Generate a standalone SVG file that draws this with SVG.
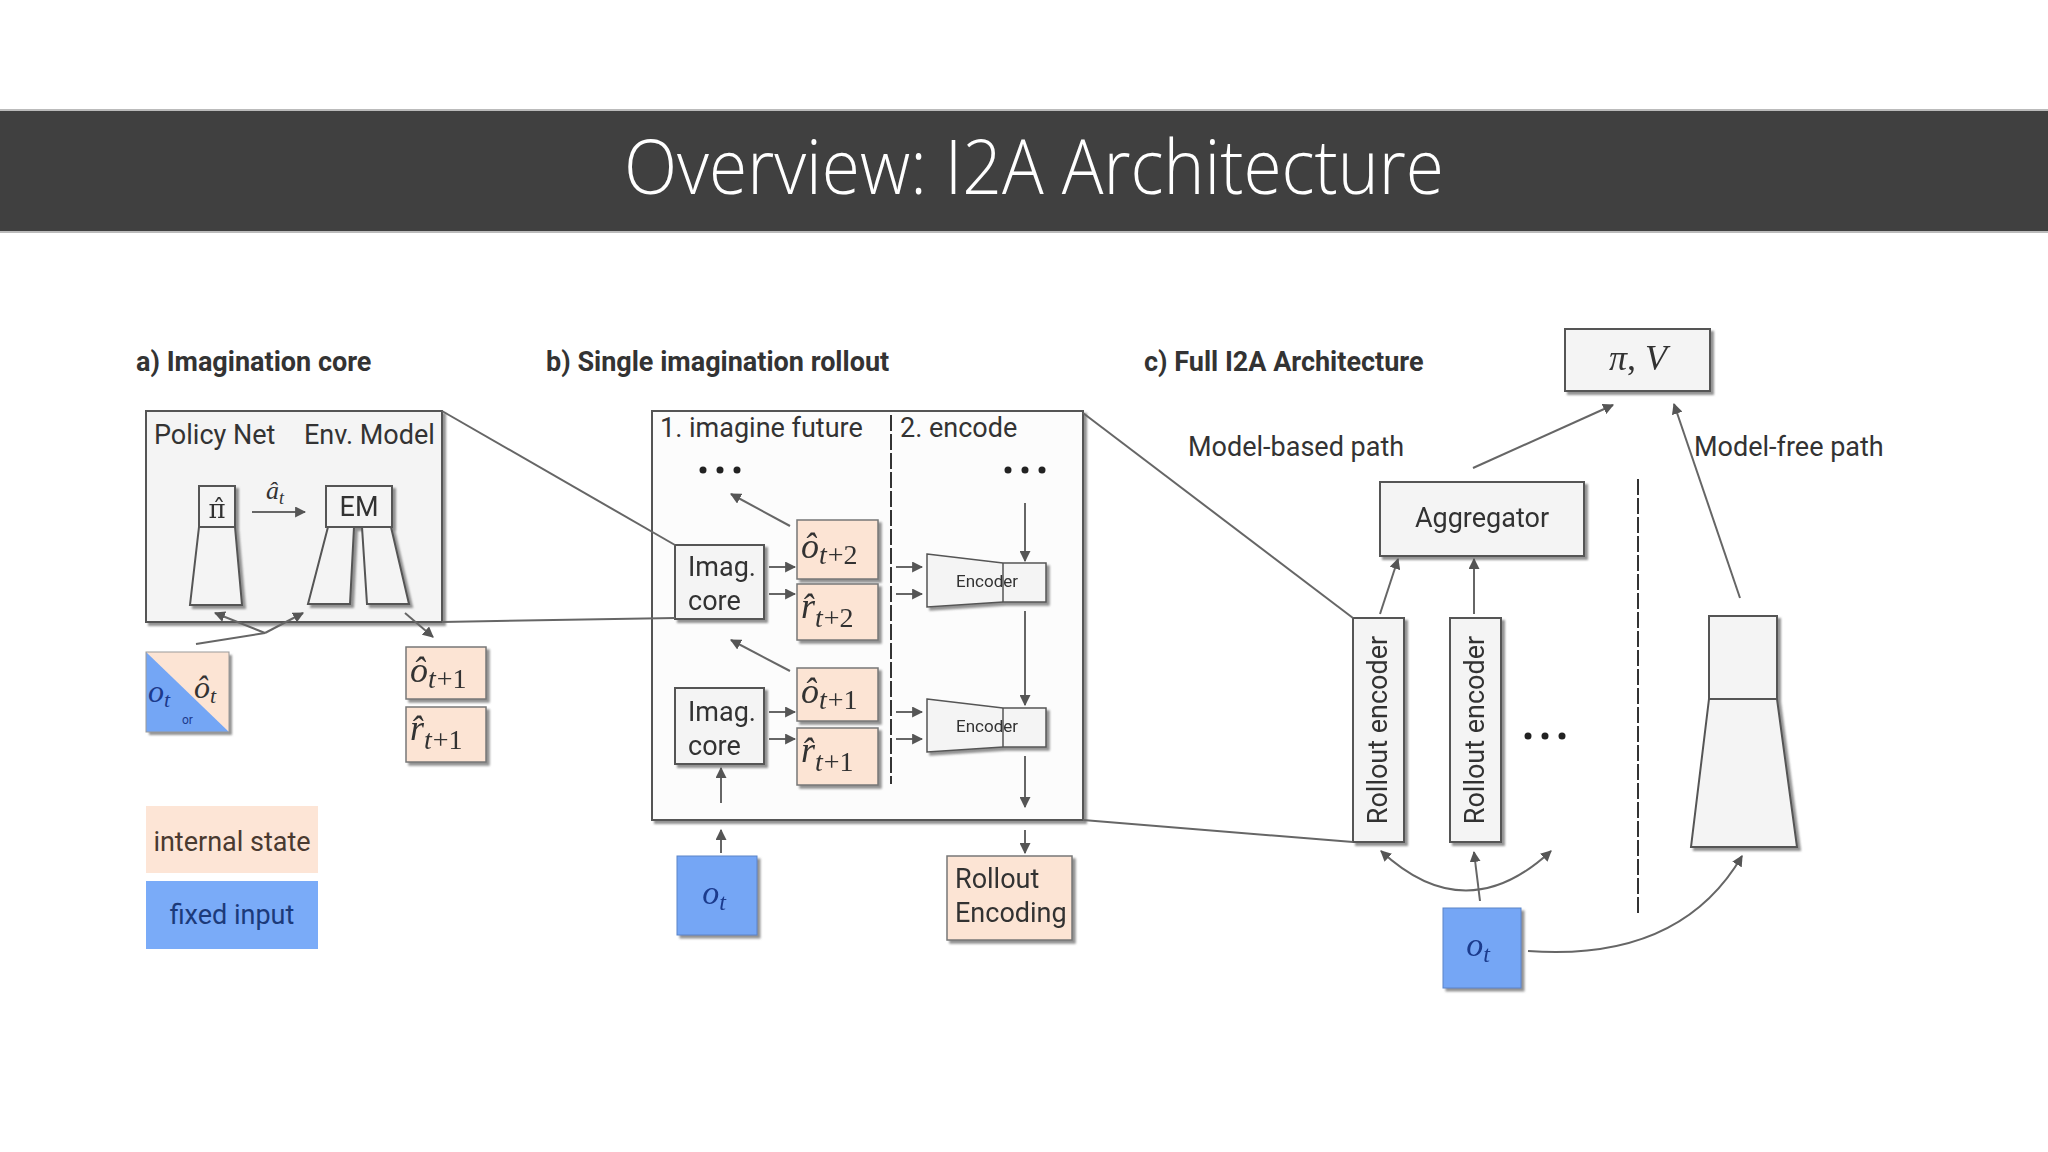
<svg xmlns="http://www.w3.org/2000/svg" width="2048" height="1152" viewBox="0 0 2048 1152">
<defs>
  <marker id="ah" viewBox="0 0 10 10" refX="9" refY="5" markerWidth="11" markerHeight="11" markerUnits="userSpaceOnUse" orient="auto-start-reverse">
    <path d="M0,0 L10,5 L0,10 z" fill="#555"/>
  </marker>
  <filter id="sh" x="-10%" y="-10%" width="130%" height="130%">
    <feDropShadow dx="3" dy="3" stdDeviation="1" flood-color="#777" flood-opacity="0.8"/>
  </filter>
</defs>
<style>
  .lbl{font-family:Roboto,"Liberation Sans",sans-serif;font-size:27px;fill:#333}
  .hd{font-family:Roboto,"Liberation Sans",sans-serif;font-size:27px;font-weight:bold;fill:#333}
  .math{font-family:"Liberation Serif","DejaVu Serif",serif;font-style:italic;fill:#333}
  .up{font-style:normal}
  .box{fill:#f4f4f4;stroke:#555;stroke-width:2}
  .peach{fill:#fce4d4;stroke:#777;stroke-width:1.5}
  .blue{fill:#74a6f5;stroke:#5a84c8;stroke-width:1}
  .ln{fill:none;stroke:#666;stroke-width:2}
  .arr{fill:none;stroke:#666;stroke-width:2;marker-end:url(#ah)}
  .dash{fill:none;stroke:#333;stroke-width:2;stroke-dasharray:16 3}
  .dot{fill:#222}
</style>
<rect width="2048" height="1152" fill="#ffffff"/>

<g id="title">
  <rect x="0" y="110" width="2048" height="122" fill="#404040"/>
  <line x1="0" y1="110" x2="2048" y2="110" stroke="#bbb" stroke-width="2"/>
  <line x1="0" y1="232" x2="2048" y2="232" stroke="#bbb" stroke-width="2"/>
  <text x="1034" y="194" text-anchor="middle" font-family="'Open Sans','Noto Sans',sans-serif" font-weight="300" font-size="76" fill="#ffffff" textLength="820" lengthAdjust="spacingAndGlyphs">Overview: I2A Architecture</text>
</g>

<g id="headings">
  <text class="hd" x="136" y="371">a) Imagination core</text>
  <text class="hd" x="546" y="371">b) Single imagination rollout</text>
  <text class="hd" x="1144" y="371">c) Full I2A Architecture</text>
</g>

<!-- Panel a -->
<g id="imagination-core">
  <rect class="box" x="146" y="411" width="296" height="211" filter="url(#sh)"/>
  <text class="lbl" x="154" y="444">Policy Net</text>
  <text class="lbl" x="304" y="444">Env. Model</text>
</g>
<g id="policy-net" filter="url(#sh)">
  <rect class="box" x="199" y="486" width="36" height="41"/>
  <polygon class="box" points="199,527 235,527 242,605 190,605"/>
  <text x="217" y="518" font-family="'DejaVu Serif',serif" font-size="26" fill="#333" text-anchor="middle">π̂</text>
</g>
<g id="env-model" filter="url(#sh)">
  <rect class="box" x="326" y="486" width="66" height="41"/>
  <polygon class="box" points="328,527 354,527 350,604 308,604"/>
  <polygon class="box" points="362,527 391,527 409,604 367,604"/>
  <text class="lbl" x="359" y="516" text-anchor="middle">EM</text>
</g>
<text class="math" x="266" y="499" font-size="26">â<tspan font-size="18" dy="5">t</tspan></text>

<g id="input-a">
  <rect x="146" y="652" width="83" height="80" fill="#fce4d4" filter="url(#sh)"/>
  <polygon points="146,652 229,732 146,732" fill="#74a6f5"/>
  <rect x="146" y="652" width="83" height="80" fill="none" stroke="#999" stroke-width="1"/>
  <text class="math" x="148" y="702" font-size="32" style="fill:#1c3a8c">o<tspan font-size="22" dy="5">t</tspan></text>
  <text class="math" x="194" y="698" font-size="32">ô<tspan font-size="22" dy="5">t</tspan></text>
  <text x="182" y="724" font-family="Roboto,'Liberation Sans',sans-serif" font-size="12" fill="#1c3a8c">or</text>
</g>
<g id="out-a-o" filter="url(#sh)">
  <rect class="peach" x="406" y="647" width="80" height="52"/>
  <text class="math" x="410" y="682" font-size="36">ô<tspan font-size="28" dy="6">t</tspan><tspan class="up" font-size="28" dx="1">+1</tspan></text>
</g>
<g id="out-a-r" filter="url(#sh)">
  <rect class="peach" x="406" y="707" width="80" height="55"/>
  <text class="math" x="410" y="740" font-size="36">r̂<tspan font-size="28" dy="9">t</tspan><tspan class="up" font-size="28" dx="1">+1</tspan></text>
</g>

<!-- legend -->
<g id="legend-internal">
  <rect x="146" y="806" width="172" height="67" fill="#fde5d6"/>
  <text class="lbl" x="232" y="851" text-anchor="middle" style="fill:#4a3a30">internal state</text>
</g>
<g id="legend-fixed">
  <rect x="146" y="881" width="172" height="68" fill="#7aabf8"/>
  <text class="lbl" x="232" y="924" text-anchor="middle" style="fill:#1c3a7a">fixed input</text>
</g>

<!-- Panel b -->
<g id="rollout-box">
  <rect class="box" x="652" y="411" width="431" height="409" style="fill:#fcfcfc" filter="url(#sh)"/>
  <text class="lbl" x="660" y="437">1. imagine future</text>
  <text class="lbl" x="900" y="437">2. encode</text>
</g>
<g id="dots-b">
  <circle class="dot" cx="703" cy="470" r="3.5"/><circle class="dot" cx="720" cy="470" r="3.5"/><circle class="dot" cx="737" cy="470" r="3.5"/>
  <circle class="dot" cx="1008" cy="470" r="3.5"/><circle class="dot" cx="1025" cy="470" r="3.5"/><circle class="dot" cx="1042" cy="470" r="3.5"/>
</g>
<g id="imag-core-2" filter="url(#sh)">
  <rect class="box" x="675" y="545" width="89" height="74"/>
  <text class="lbl" x="688" y="576">Imag.</text>
  <text class="lbl" x="688" y="610">core</text>
</g>
<g id="o-t2" filter="url(#sh)">
  <rect class="peach" x="797" y="520" width="81" height="59"/>
  <text class="math" x="801" y="558" font-size="36">ô<tspan font-size="28" dy="6">t</tspan><tspan class="up" font-size="28" dx="1">+2</tspan></text>
</g>
<g id="r-t2" filter="url(#sh)">
  <rect class="peach" x="797" y="584" width="81" height="56"/>
  <text class="math" x="801" y="618" font-size="36">r̂<tspan font-size="28" dy="9">t</tspan><tspan class="up" font-size="28" dx="1">+2</tspan></text>
</g>
<g id="encoder-2" filter="url(#sh)">
  <polygon class="box" points="927,554 1003,563 1046,563 1046,602 1003,602 927,607" style="stroke-width:1.5"/>
  <line x1="1003" y1="563" x2="1003" y2="602" stroke="#555" stroke-width="1.5"/>
  <text x="987" y="587" text-anchor="middle" font-family="Roboto,'Liberation Sans',sans-serif" font-size="17" fill="#333">Encoder</text>
</g>
<g id="imag-core-1" filter="url(#sh)">
  <rect class="box" x="675" y="688" width="89" height="76"/>
  <text class="lbl" x="688" y="721">Imag.</text>
  <text class="lbl" x="688" y="755">core</text>
</g>
<g id="o-t1" filter="url(#sh)">
  <rect class="peach" x="797" y="668" width="81" height="53"/>
  <text class="math" x="801" y="703" font-size="36">ô<tspan font-size="28" dy="6">t</tspan><tspan class="up" font-size="28" dx="1">+1</tspan></text>
</g>
<g id="r-t1" filter="url(#sh)">
  <rect class="peach" x="797" y="728" width="81" height="57"/>
  <text class="math" x="801" y="762" font-size="36">r̂<tspan font-size="28" dy="9">t</tspan><tspan class="up" font-size="28" dx="1">+1</tspan></text>
</g>
<g id="encoder-1" filter="url(#sh)">
  <polygon class="box" points="927,699 1003,708 1046,708 1046,747 1003,747 927,752" style="stroke-width:1.5"/>
  <line x1="1003" y1="708" x2="1003" y2="747" stroke="#555" stroke-width="1.5"/>
  <text x="987" y="732" text-anchor="middle" font-family="Roboto,'Liberation Sans',sans-serif" font-size="17" fill="#333">Encoder</text>
</g>
<g id="input-b" filter="url(#sh)">
  <rect class="blue" x="677" y="856" width="80" height="79"/>
  <text class="math" x="714" y="904" font-size="34" text-anchor="middle" style="fill:#1c3a8c">o<tspan font-size="24" dy="6">t</tspan></text>
</g>
<g id="rollout-encoding" filter="url(#sh)">
  <rect class="peach" x="947" y="856" width="125" height="84"/>
  <text class="lbl" x="955" y="888">Rollout</text>
  <text class="lbl" x="955" y="922">Encoding</text>
</g>

<!-- Panel c -->
<g id="pi-v" filter="url(#sh)">
  <rect class="box" x="1565" y="329" width="145" height="62"/>
  <text class="math" x="1638" y="370" font-size="36" text-anchor="middle">π<tspan class="up">, </tspan>V</text>
</g>
<text class="lbl" x="1188" y="456">Model-based path</text>
<text class="lbl" x="1694" y="456">Model-free path</text>
<g id="aggregator" filter="url(#sh)">
  <rect class="box" x="1380" y="482" width="204" height="74"/>
  <text class="lbl" x="1482" y="527" text-anchor="middle">Aggregator</text>
</g>
<g id="rollout-encoder-1" filter="url(#sh)">
  <rect class="box" x="1353" y="618" width="51" height="224"/>
  <text class="lbl" x="1378" y="739" text-anchor="middle" transform="rotate(-90 1378 730)">Rollout encoder</text>
</g>
<g id="rollout-encoder-2" filter="url(#sh)">
  <rect class="box" x="1450" y="618" width="51" height="224"/>
  <text class="lbl" x="1475" y="739" text-anchor="middle" transform="rotate(-90 1475 730)">Rollout encoder</text>
</g>
<g id="dots-c">
  <circle class="dot" cx="1528" cy="736" r="3.5"/><circle class="dot" cx="1545" cy="736" r="3.5"/><circle class="dot" cx="1562" cy="736" r="3.5"/>
</g>
<g id="model-free-net" filter="url(#sh)">
  <rect class="box" x="1709" y="616" width="68" height="83"/>
  <polygon class="box" points="1709,699 1777,699 1797,847 1691,847"/>
</g>
<g id="input-c" filter="url(#sh)">
  <rect class="blue" x="1443" y="908" width="78" height="80"/>
  <text class="math" x="1478" y="956" font-size="34" text-anchor="middle" style="fill:#1c3a8c">o<tspan font-size="24" dy="6">t</tspan></text>
</g>

<g id="connectors">
  <!-- panel a -->
  <line class="arr" x1="252" y1="512" x2="305" y2="512"/>
  <line class="ln" x1="196" y1="644" x2="265" y2="633"/>
  <line class="arr" x1="265" y1="633" x2="215" y2="613"/>
  <line class="arr" x1="265" y1="633" x2="303" y2="613"/>
  <line class="arr" x1="405" y1="613" x2="433" y2="637"/>
  <!-- zoom lines a->b -->
  <line class="ln" x1="442" y1="411" x2="675" y2="545"/>
  <line class="ln" x1="442" y1="622" x2="675" y2="618"/>
  <!-- panel b -->
  <line class="dash" x1="891" y1="415" x2="891" y2="784"/>
  <line class="arr" x1="790" y1="526" x2="731" y2="494"/>
  <line class="arr" x1="790" y1="671" x2="731" y2="640"/>
  <line class="arr" x1="769" y1="567" x2="795" y2="567"/>
  <line class="arr" x1="769" y1="594" x2="795" y2="594"/>
  <line class="arr" x1="896" y1="567" x2="922" y2="567"/>
  <line class="arr" x1="896" y1="594" x2="922" y2="594"/>
  <line class="arr" x1="769" y1="712" x2="795" y2="712"/>
  <line class="arr" x1="769" y1="739" x2="795" y2="739"/>
  <line class="arr" x1="896" y1="712" x2="922" y2="712"/>
  <line class="arr" x1="896" y1="739" x2="922" y2="739"/>
  <line class="arr" x1="1025" y1="503" x2="1025" y2="561"/>
  <line class="arr" x1="1025" y1="611" x2="1025" y2="705"/>
  <line class="arr" x1="1025" y1="756" x2="1025" y2="807"/>
  <line class="arr" x1="1025" y1="830" x2="1025" y2="853"/>
  <line class="arr" x1="721" y1="853" x2="721" y2="830"/>
  <line class="arr" x1="721" y1="803" x2="721" y2="768"/>
  <!-- zoom lines b->c -->
  <line class="ln" x1="1083" y1="413" x2="1353" y2="618"/>
  <line class="ln" x1="1083" y1="820" x2="1353" y2="842"/>
  <!-- panel c -->
  <line class="dash" x1="1638" y1="479" x2="1638" y2="913"/>
  <line class="arr" x1="1473" y1="468" x2="1613" y2="405"/>
  <line class="arr" x1="1740" y1="598" x2="1674" y2="404"/>
  <line class="arr" x1="1380" y1="614" x2="1398" y2="559"/>
  <line class="arr" x1="1474" y1="614" x2="1474" y2="559"/>
  <line class="arr" x1="1480" y1="901" x2="1474" y2="852"/>
  <path class="arr" d="M1381,851 Q1466,930 1551,851" style="marker-start:url(#ah)"/>
  <path class="arr" d="M1528,951 Q1680,962 1742,856"/>
</g>
</svg>
